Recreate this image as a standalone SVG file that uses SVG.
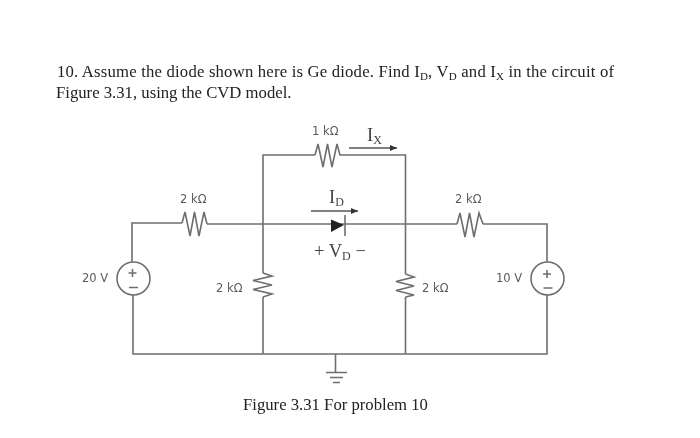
<svg xmlns="http://www.w3.org/2000/svg" width="700" height="438" viewBox="0 0 700 438">
<style>
.w{fill:none;stroke:#6e6e6e;stroke-width:1.6}
.t{font-family:"Liberation Serif",serif;font-size:16.700px;fill:#222}
.l{font-family:"DejaVu Sans",sans-serif;font-size:11.500px;fill:#5a5a5a}
.s{font-family:"Liberation Serif",serif;font-size:18.500px;fill:#444}
.sub{font-size:12px}
.tsub{font-size:11px}
.a{fill:none;stroke:#555;stroke-width:1.300;marker-end:url(#ah)}
</style>
<defs>
<marker id="ah" markerWidth="8" markerHeight="6" refX="7" refY="3" orient="auto" markerUnits="userSpaceOnUse"><path d="M0 0L7 3L0 6Z" fill="#333"/></marker>
<filter id="b" x="-5%" y="-5%" width="110%" height="110%"><feGaussianBlur stdDeviation="0.45"/></filter>
</defs>
<rect width="700" height="438" fill="#fff"/>
<g filter="url(#b)">
<g id="problem-text">
<text class="t" x="57" y="77" textLength="557" lengthAdjust="spacing">10. Assume the diode shown here is Ge diode. Find I<tspan class="tsub" dy="3">D</tspan><tspan dy="-3">, V</tspan><tspan class="tsub" dy="3">D</tspan><tspan dy="-3"> and I</tspan><tspan class="tsub" dy="3">X</tspan><tspan dy="-3"> in the circuit of</tspan></text>
<text class="t" x="56" y="98">Figure 3.31, using the CVD model.</text>
</g>
<g id="connectors">
<path class="w" d="M132 262V223H182M207 224H457M483 224H547V262"/>
<path class="w" d="M263 224V155H315M342 155H405.500V224"/>
<path class="w" d="M263 224V273M263 297V354M405.500 224V274M405.500 297V354"/>
<path class="w" d="M133 295V354H547V295"/>
<path class="w" d="M335.500 354V372"/>
<path class="a" d="M349 148H397"/>
<path class="a" d="M311 211H358"/>
</g>
<g id="r-top"><path class="w" d="M315 155L318 144L323 167L327.500 144L332 167L337 144L340 155H342"/><text class="l" x="312" y="135">1 kΩ</text></g>
<g id="r-left"><path class="w" d="M182 223L185 212L190 236L194.500 212L199 236L204 212L207 224"/><text class="l" x="180" y="203">2 kΩ</text></g>
<g id="r-right"><path class="w" d="M457 224L460 213L465 237L469.500 213L474 237L479 213L483 224"/><text class="l" x="455" y="203">2 kΩ</text></g>
<g id="r-mid-left"><path class="w" d="M263 273L272 276L253 280.500L272 285L253 289.500L272 294L263 297"/><text class="l" x="216" y="292">2 kΩ</text></g>
<g id="r-mid-right"><path class="w" d="M405.500 274L414 277L396 281.500L414 286L396 290.500L414 295L405.500 297"/><text class="l" x="422" y="292">2 kΩ</text></g>
<g id="diode"><path d="M331 219.500L344 225L331 232Z" fill="#222"/><path class="w" d="M345 215V236"/></g>
<g id="src-20"><circle class="w" cx="133.500" cy="278.500" r="16.500"/><path class="w" d="M128.500 273H136.500M132.500 269V277M129 287.500H138"/><text class="l" x="82" y="282">20 V</text></g>
<g id="src-10"><circle class="w" cx="547.500" cy="278.500" r="16.500"/><path class="w" d="M543 274H551M547 270V278M543.500 288H552.500"/><text class="l" x="496" y="282">10 V</text></g>
<g id="ground"><path class="w" d="M326 372.500H347M330 377.500H343M333 382.500H340"/></g>
<g id="labels">
<text class="s" x="367" y="141">I<tspan class="sub" dy="3">X</tspan></text>
<text class="s" x="329" y="203">I<tspan class="sub" dy="3">D</tspan></text>
<text class="s" x="314" y="257">+ V<tspan class="sub" dy="3">D</tspan><tspan dy="-3"> −</tspan></text>
<text class="t" x="243" y="410">Figure 3.31 For problem 10</text>
</g>
</g>
</svg>
